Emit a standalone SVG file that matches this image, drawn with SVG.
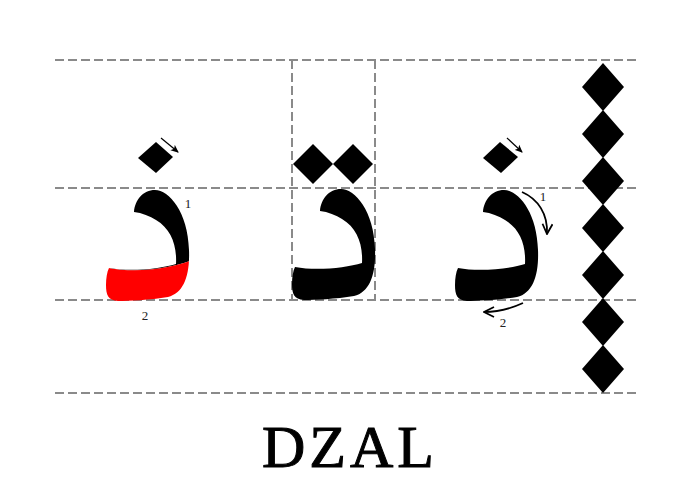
<svg xmlns="http://www.w3.org/2000/svg" xmlns:xlink="http://www.w3.org/1999/xlink" width="700" height="495" viewBox="0 0 700 495">
<style>
.guide{stroke:#8a8a8a;stroke-width:2;stroke-dasharray:9 4;fill:none}
.ink{fill:#000}
.num{font-family:"Liberation Serif",serif;font-size:13px;fill:#222;text-anchor:middle}
.arr{stroke:#000;fill:none}
</style>
<defs>
<path id="dal" d="M 134,212 C 135,200 143,190 155,190 C 169,190 188,212 189,250 C 190,275 184,293 168,297 C 150,300 128,301 118,301 C 108,300 106,295 106,285 C 106,278 107,272 109,268 C 130,272 160,269 176,264 C 177,245 171,229 156,220 C 150,216 142,213 134,212 Z"/>
<clipPath id="top1"><path d="M 90,180 L 200,180 L 200,257 C 170,270 135,273 109,268 L 90,268 Z"/></clipPath>
<clipPath id="bot1"><path d="M 90,268 L 109,268 C 135,273 170,270 200,257 L 200,310 L 90,310 Z"/></clipPath>
<marker id="tip" viewBox="0 0 8 8" refX="7" refY="4" markerWidth="8" markerHeight="8" markerUnits="userSpaceOnUse" orient="auto"><path d="M0,0.5 L8,4 L0,7.5 L2,4 Z" fill="#000"/></marker>
<marker id="open" viewBox="0 0 12 12" refX="11" refY="6" markerWidth="12" markerHeight="12" markerUnits="userSpaceOnUse" orient="auto"><path d="M1,1 L11,6 L1,11" fill="none" stroke="#000" stroke-width="1.8"/></marker>
</defs>
<rect width="700" height="495" fill="#fff"/>
<g id="guides">
<line class="guide" x1="55" y1="60" x2="636" y2="60"/>
<line class="guide" x1="55" y1="188" x2="636" y2="188"/>
<line class="guide" x1="55" y1="300" x2="636" y2="300"/>
<line class="guide" x1="55" y1="393" x2="636" y2="393"/>
<line class="guide" x1="292" y1="60" x2="292" y2="300"/>
<line class="guide" x1="375" y1="60" x2="375" y2="300"/>
</g>
<g id="letter1">
<polygon class="ink" points="138,158 156,142 173,157 156,173"/>
<use xlink:href="#dal" fill="#000" clip-path="url(#top1)"/>
<use xlink:href="#dal" fill="#ff0000" clip-path="url(#bot1)"/>
<text class="num" x="188" y="208">1</text>
<text class="num" x="145" y="320">2</text>
</g>
<g id="letter2">
<polygon class="ink" points="293,164 313,144 333,164 313,184"/>
<polygon class="ink" points="333,164 353,144 373,164 353,184"/>
<use xlink:href="#dal" fill="#000" transform="translate(186,-1)"/>
</g>
<g id="letter3">
<polygon class="ink" points="483,158 500,142 518,157 501,173"/>
<use xlink:href="#dal" fill="#000" transform="translate(349,0)"/>
<text class="num" x="543" y="201">1</text>
<text class="num" x="503" y="327">2</text>
</g>
<g id="column">
<polygon class="ink" points="603,63 624,87 603,111 582,87"/>
<polygon class="ink" points="603,110 624,134 603,158 582,134"/>
<polygon class="ink" points="603,157 624,181 603,205 582,181"/>
<polygon class="ink" points="603,204 624,228 603,252 582,228"/>
<polygon class="ink" points="603,251 624,275 603,299 582,275"/>
<polygon class="ink" points="603,298 624,322 603,346 582,322"/>
<polygon class="ink" points="603,345 624,369 603,393 582,369"/>
</g>
<g id="connectors">
<line class="arr" stroke-width="1.2" x1="161" y1="138" x2="178" y2="152" marker-end="url(#tip)"/>
<line class="arr" stroke-width="1.2" x1="507" y1="138" x2="522" y2="152" marker-end="url(#tip)"/>
<path class="arr" stroke-width="1.8" d="M 522,192 C 538,199 548,214 547,234" marker-end="url(#open)"/>
<path class="arr" stroke-width="1.8" d="M 523,303 C 510,309 497,312 484,312" marker-end="url(#open)"/>
</g>
<text x="350" y="467" font-family="Liberation Serif,serif" font-size="60" letter-spacing="4" text-anchor="middle" fill="#000" stroke="#000" stroke-width="1">DZAL</text>
</svg>
